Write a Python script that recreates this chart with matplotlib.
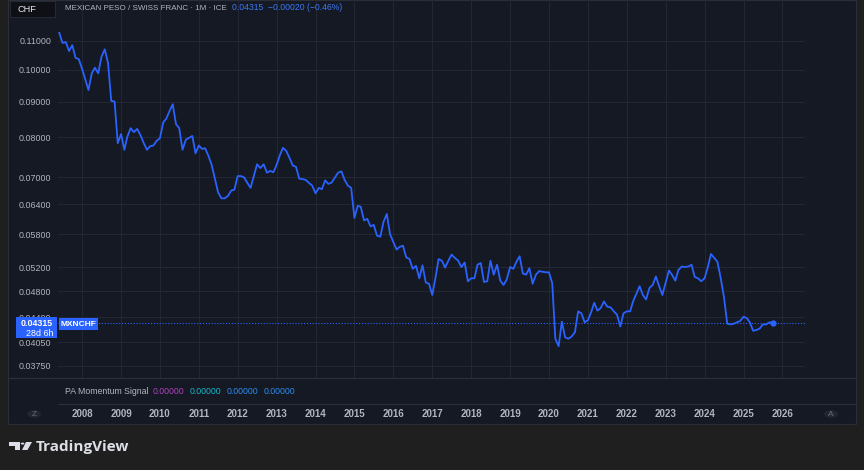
import numpy as np
import pandas as pd
import matplotlib
matplotlib.use("Agg")
import matplotlib.pyplot as plt
import matplotlib.dates as mdates
from matplotlib.patches import Rectangle, Circle, Polygon
from matplotlib.lines import Line2D

plt.rcParams['font.family'] = ['Liberation Sans', 'DejaVu Sans']

# monthly closes MXN/CHF, starting Jun 2007
vals_2007 = [0.1130, 0.1093, 0.1096, 0.1064, 0.1085, 0.1040, 0.1036]
vals_2008 = [0.1003, 0.0967, 0.0935, 0.0988, 0.1007, 0.0988, 0.1044, 0.1070, 0.1022, 0.0902, 0.0900, 0.0784]
vals_2009 = [0.0808, 0.0767, 0.0801, 0.0824, 0.0813, 0.0822, 0.0806, 0.0785, 0.0767, 0.0776, 0.0778, 0.0790]
vals_2010 = [0.0797, 0.0840, 0.0850, 0.0872, 0.0892, 0.0835, 0.0824, 0.0767, 0.0793, 0.0798, 0.0803, 0.0758]
vals_2011 = [0.0778, 0.0769, 0.0771, 0.0752, 0.0730, 0.0697, 0.0666, 0.0653, 0.0653, 0.0658, 0.0670, 0.0672]
vals_2012 = [0.0703, 0.0703, 0.0700, 0.0687, 0.0676, 0.0703, 0.0731, 0.0722, 0.0731, 0.0711, 0.0715, 0.0712]
vals_2013 = [0.0730, 0.0754, 0.0772, 0.0764, 0.0747, 0.0728, 0.0725, 0.0697, 0.0696, 0.0694, 0.0687, 0.0681]
vals_2014 = [0.0664, 0.0676, 0.0673, 0.0693, 0.0685, 0.0688, 0.0699, 0.0711, 0.0714, 0.0694, 0.0681, 0.0676]
vals_2015 = [0.0612, 0.0637, 0.0635, 0.0607, 0.0610, 0.0595, 0.0598, 0.0577, 0.0575, 0.0604, 0.0620, 0.0580]
vals_2016 = [0.0565, 0.0551, 0.0556, 0.0558, 0.0537, 0.0534, 0.0517, 0.0522, 0.0501, 0.0523, 0.0494, 0.0492]
vals_2017 = [0.0474, 0.0503, 0.0534, 0.0531, 0.0519, 0.0531, 0.0542, 0.0536, 0.0531, 0.0520, 0.0528, 0.0496]
vals_2018 = [0.0501, 0.0501, 0.0524, 0.0527, 0.0495, 0.0496, 0.0531, 0.0507, 0.0524, 0.0497, 0.0490, 0.0499]
vals_2019 = [0.0520, 0.0517, 0.0529, 0.0539, 0.0509, 0.0507, 0.0518, 0.0492, 0.0507, 0.0513, 0.0512, 0.0511]
vals_2020 = [0.0511, 0.0493, 0.0410, 0.0400, 0.0434, 0.0412, 0.0410, 0.0413, 0.0419, 0.0449, 0.0446, 0.0433]
vals_2021 = [0.0436, 0.0448, 0.0462, 0.0450, 0.0454, 0.0464, 0.0456, 0.0455, 0.0449, 0.0444, 0.0427, 0.0446]
vals_2022 = [0.0449, 0.0449, 0.0464, 0.0476, 0.0488, 0.0474, 0.0467, 0.0485, 0.0490, 0.0504, 0.0488, 0.0474]
vals_2023 = [0.0494, 0.0514, 0.0507, 0.0497, 0.0515, 0.0521, 0.0520, 0.0521, 0.0524, 0.0503, 0.0501, 0.0496]
vals_2024 = [0.0501, 0.0520, 0.0543, 0.0536, 0.0529, 0.0501, 0.0471, 0.0431, 0.0430, 0.0431, 0.0433, 0.0435]
vals_2025 = [0.0441, 0.0439, 0.0433, 0.0421, 0.0422, 0.0424, 0.0430, 0.0430, 0.0433, 0.04315]

price_ticks = [0.11, 0.10, 0.09, 0.08, 0.07, 0.064, 0.058, 0.052, 0.048, 0.044, 0.0405, 0.0375]
price_labels = ["0.11000", "0.10000", "0.09000", "0.08000", "0.07000", "0.06400",
                "0.05800", "0.05200", "0.04800", "0.04400", "0.04050", "0.03750"]
years = list(range(2008, 2027))

values = (vals_2007 + vals_2008 + vals_2009 + vals_2010 + vals_2011 + vals_2012 + vals_2013
          + vals_2014 + vals_2015 + vals_2016 + vals_2017 + vals_2018 + vals_2019 + vals_2020
          + vals_2021 + vals_2022 + vals_2023 + vals_2024 + vals_2025)
dates = pd.date_range("2007-06-01", periods=len(values), freq="MS")
last = values[-1]

OUTER = "#1f1f1f"
PANEL = "#151923"
GRID = "#232733"
BORDER = "#2a2e39"
TXT = "#b2b5be"
BLUE = "#2962ff"

W, H = 864, 470

fig = plt.figure(figsize=(W / 100, H / 100), dpi=100)
fig.patch.set_facecolor(OUTER)


def frect(x0, y0, x1, y1, **kw):
    fig.add_artist(Rectangle((x0 / W, 1 - y1 / H), (x1 - x0) / W, (y1 - y0) / H,
                             transform=fig.transFigure, **kw))


def ftext(x, y, s, **kw):
    fig.text(x / W, 1 - y / H, s, **kw)


def fline(x0, x1, y, **kw):
    fig.add_artist(Line2D([x0 / W, x1 / W], [1 - y / H, 1 - y / H], transform=fig.transFigure, **kw))


frect(8, 0, 856, 424, facecolor=PANEL, edgecolor=BORDER, lw=0.8, zorder=0)

# main price pane
ax = fig.add_axes([58 / W, 1 - 378 / H, 747 / W, 378 / H])
ax.set_facecolor("none")
ax.plot(dates, values, color=BLUE, lw=1.3, zorder=3, solid_joinstyle="round")
ax.plot(dates[-1:], [last], "o", ms=3.5, color=BLUE, zorder=4)
ax.axhline(last, color=BLUE, lw=0.8, ls=(0, (1, 1.6)), zorder=2)

ax.set_yscale("log")
ax.set_ylim(0.0360, 0.1260)
ax.set_xlim(pd.Timestamp("2007-05-20"), pd.Timestamp("2026-08-01"))
ax.set_yticks(price_ticks)
ax.set_yticklabels(price_labels)
ax.minorticks_off()
ax.set_xticks([pd.Timestamp(f"{y}-01-01") for y in years])
ax.tick_params(axis="y", length=0, pad=5, labelcolor=TXT, labelsize=6.4)
ax.tick_params(axis="x", length=0, labelbottom=False)
ax.grid(True, color=GRID, lw=0.8)
for s in ax.spines.values():
    s.set_visible(False)

# pane separators
fline(8, 856, 378, color=BORDER, lw=0.9)
fline(58, 856, 404, color=BORDER, lw=0.9)

# time axis row
ax_x = fig.add_axes([58 / W, 1 - 424 / H, 747 / W, 20 / H], sharex=ax)
ax_x.axis("off")
for y in years:
    ax_x.text(mdates.date2num(pd.Timestamp(f"{y}-01-01")), 0.5, str(y), ha="center", va="center",
              color=TXT, fontsize=7.0, fontweight="bold", transform=ax_x.get_xaxis_transform())

for cx, letter in [(34, "Z"), (831, "A")]:
    fig.add_artist(Circle((cx / W, 1 - 414 / H), 7 / W, transform=fig.transFigure,
                          facecolor="#23262f", edgecolor="none"))
    ftext(cx, 414, letter, ha="center", va="center", color="#6a6d78", fontsize=6)

# header
frect(10, 1, 55, 17, facecolor="#0e1016", edgecolor="#2a2e39", lw=0.6, zorder=5)
ftext(17, 9, "CHF", ha="left", va="center", color="#e6e8ee", fontsize=6.6, zorder=6)
ftext(65, 8, "MEXICAN PESO / SWISS FRANC \u00b7 1M \u00b7 ICE", ha="left", va="center",
      color=TXT, fontsize=5.8)
ftext(232, 8, "0.04315  \u22120.00020 (\u22120.46%)", ha="left", va="center",
      color="#3b78f5", fontsize=6.2)

# indicator pane legend
ftext(65, 391, "PA Momentum Signal", ha="left", va="center", color=TXT, fontsize=6.3)
for xx, col in [(153, "#b040c0"), (190, "#14b8c8"), (227, "#2a8cf0"), (264, "#2a8cf0")]:
    ftext(xx, 391, "0.00000", ha="left", va="center", color=col, fontsize=6.3)

# last price labels
frect(16, 317, 57, 338, facecolor=BLUE, edgecolor="none", zorder=7)
ftext(53, 323, "0.04315", ha="right", va="center", color="white", fontsize=6.4,
      fontweight="bold", zorder=8)
ftext(53, 333, "28d 6h", ha="right", va="center", color="white", fontsize=6.4, zorder=8)
frect(59, 318, 98, 330, facecolor=BLUE, edgecolor="none", zorder=7)
ftext(78.5, 324, "MXNCHF", ha="center", va="center", color="white", fontsize=6.0,
      fontweight="bold", zorder=8)

# logo
logo_col = "#dcdfe6"
tshape = [(9, 442), (20, 442), (20, 450), (14.5, 450), (14.5, 446), (9, 446)]
slash = [(26, 442), (32, 442), (27.5, 450), (22, 450)]
for poly in (tshape, slash):
    fig.add_artist(Polygon([(px / W, 1 - py / H) for px, py in poly], closed=True,
                           transform=fig.transFigure, facecolor=logo_col, edgecolor="none"))
fig.add_artist(Circle((22.6 / W, 1 - 443.6 / H), 1.8 / W, transform=fig.transFigure,
                      facecolor=logo_col, edgecolor="none"))
ftext(36, 447, "TradingView", ha="left", va="center", color=logo_col, fontsize=11,
      fontweight="bold", family=["Open Sans", "DejaVu Sans"])

fig.savefig("out.png", dpi=100, facecolor=OUTER)
